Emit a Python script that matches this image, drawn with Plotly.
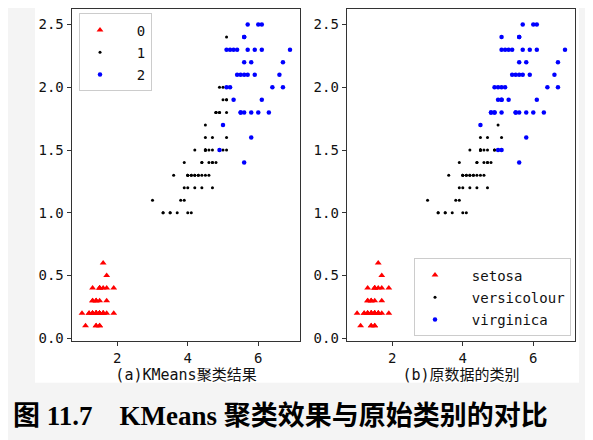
import plotly.graph_objects as go

petal_length = [
    1.4, 1.4, 1.3, 1.5, 1.4, 1.7, 1.4, 1.5, 1.4, 1.5,
    1.5, 1.6, 1.4, 1.1, 1.2, 1.5, 1.3, 1.4, 1.7, 1.5,
    1.7, 1.5, 1.0, 1.7, 1.9, 1.6, 1.6, 1.5, 1.4, 1.6,
    1.6, 1.5, 1.5, 1.4, 1.5, 1.2, 1.3, 1.4, 1.3, 1.5,
    1.3, 1.3, 1.3, 1.6, 1.9, 1.4, 1.6, 1.4, 1.5, 1.4,
    4.7, 4.5, 4.9, 4.0, 4.6, 4.5, 4.7, 3.3, 4.6, 3.9,
    3.5, 4.2, 4.0, 4.7, 3.6, 4.4, 4.5, 4.1, 4.5, 3.9,
    4.8, 4.0, 4.9, 4.7, 4.3, 4.4, 4.8, 5.0, 4.5, 3.5,
    3.8, 3.7, 3.9, 5.1, 4.5, 4.5, 4.7, 4.4, 4.1, 4.0,
    4.4, 4.6, 4.0, 3.3, 4.2, 4.2, 4.2, 4.3, 3.0, 4.1,
    6.0, 5.1, 5.9, 5.6, 5.8, 6.6, 4.5, 6.3, 5.8, 6.1,
    5.1, 5.3, 5.5, 5.0, 5.1, 5.3, 5.5, 6.7, 6.9, 5.0,
    5.7, 4.9, 6.7, 4.9, 5.7, 6.0, 4.8, 4.9, 5.6, 5.8,
    6.1, 6.4, 5.6, 5.1, 5.6, 6.1, 5.6, 5.5, 4.8, 5.4,
    5.6, 5.1, 5.1, 5.9, 5.7, 5.2, 5.0, 5.2, 5.4, 5.1,
]
petal_width = [
    0.2, 0.2, 0.2, 0.2, 0.2, 0.4, 0.3, 0.2, 0.2, 0.1,
    0.2, 0.2, 0.1, 0.1, 0.2, 0.4, 0.4, 0.3, 0.3, 0.3,
    0.2, 0.4, 0.2, 0.5, 0.2, 0.2, 0.4, 0.2, 0.2, 0.2,
    0.2, 0.4, 0.1, 0.2, 0.2, 0.2, 0.2, 0.1, 0.2, 0.2,
    0.3, 0.3, 0.2, 0.6, 0.4, 0.3, 0.2, 0.2, 0.2, 0.2,
    1.4, 1.5, 1.5, 1.3, 1.5, 1.3, 1.6, 1.0, 1.3, 1.4,
    1.0, 1.5, 1.0, 1.4, 1.3, 1.4, 1.5, 1.0, 1.5, 1.1,
    1.8, 1.3, 1.5, 1.2, 1.3, 1.4, 1.4, 1.7, 1.5, 1.0,
    1.1, 1.0, 1.2, 1.6, 1.5, 1.6, 1.5, 1.3, 1.3, 1.3,
    1.2, 1.4, 1.2, 1.0, 1.3, 1.2, 1.3, 1.3, 1.1, 1.3,
    2.5, 1.9, 2.1, 1.8, 2.2, 2.1, 1.7, 1.8, 1.8, 2.5,
    2.0, 1.9, 2.1, 2.0, 2.4, 2.3, 1.8, 2.2, 2.3, 1.5,
    2.3, 2.0, 2.0, 1.8, 2.1, 1.8, 1.8, 1.8, 2.1, 1.6,
    1.9, 2.0, 2.2, 1.5, 1.4, 2.3, 2.4, 1.8, 1.8, 2.1,
    2.4, 2.3, 1.9, 2.3, 2.5, 2.3, 1.9, 2.0, 2.3, 1.8,
]
# original class of each flower (0 setosa, 1 versicolour, 2 virginica)
species = [
    0, 0, 0, 0, 0, 0, 0, 0, 0, 0, 0, 0, 0, 0, 0, 0, 0, 0, 0, 0, 0, 0, 0, 0, 0,
    0, 0, 0, 0, 0, 0, 0, 0, 0, 0, 0, 0, 0, 0, 0, 0, 0, 0, 0, 0, 0, 0, 0, 0, 0,
    1, 1, 1, 1, 1, 1, 1, 1, 1, 1, 1, 1, 1, 1, 1, 1, 1, 1, 1, 1, 1, 1, 1, 1, 1,
    1, 1, 1, 1, 1, 1, 1, 1, 1, 1, 1, 1, 1, 1, 1, 1, 1, 1, 1, 1, 1, 1, 1, 1, 1,
    2, 2, 2, 2, 2, 2, 2, 2, 2, 2, 2, 2, 2, 2, 2, 2, 2, 2, 2, 2, 2, 2, 2, 2, 2,
    2, 2, 2, 2, 2, 2, 2, 2, 2, 2, 2, 2, 2, 2, 2, 2, 2, 2, 2, 2, 2, 2, 2, 2, 2,
]
# cluster assigned by KMeans
kmeans_label = [
    0, 0, 0, 0, 0, 0, 0, 0, 0, 0, 0, 0, 0, 0, 0, 0, 0, 0, 0, 0, 0, 0, 0, 0, 0,
    0, 0, 0, 0, 0, 0, 0, 0, 0, 0, 0, 0, 0, 0, 0, 0, 0, 0, 0, 0, 0, 0, 0, 0, 0,
    1, 1, 2, 1, 1, 1, 1, 1, 1, 1, 1, 1, 1, 1, 1, 1, 1, 1, 1, 1, 1, 1, 1, 1, 1,
    1, 1, 2, 1, 1, 1, 1, 1, 1, 1, 1, 1, 1, 1, 1, 1, 1, 1, 1, 1, 1, 1, 1, 1, 1,
    2, 1, 2, 2, 2, 2, 1, 2, 2, 2, 2, 2, 2, 1, 1, 2, 2, 2, 2, 1, 2, 1, 2, 1, 2,
    2, 1, 1, 2, 2, 2, 2, 2, 1, 2, 2, 2, 2, 1, 2, 2, 2, 1, 2, 2, 2, 1, 2, 2, 1,
]
cluster_names = ["0", "1", "2"]
species_names = ["setosa", "versicolour", "virginica"]
x_ticks = [2, 4, 6]
y_ticks = [0.0, 0.5, 1.0, 1.5, 2.0, 2.5]

# marker style per group: red triangles, black small dots, blue dots
styles = [
    dict(color="#ff0000", symbol="triangle-up", size=6),
    dict(color="#000000", symbol="circle", size=3),
    dict(color="#0000ff", symbol="circle", size=4.5),
]

# the page body has an 8px margin, so the figure is drawn 8px in from the
# top-left corner; positions below are in window pixels
OFF = 8
W, H = 593 - OFF, 440 - OFF


def px(x):
    return (x - OFF) / W


def py(y):
    return 1 - (y - OFF) / H


MONO = "DejaVu Sans Mono"
CJK = "DejaVu Sans Mono, Noto Sans CJK SC"

fig = go.Figure()


def add_groups(labels, names, xaxis, yaxis, legend, pad):
    for k, name in enumerate(names):
        xs = [x for x, g in zip(petal_length, labels) if g == k]
        ys = [y for y, g in zip(petal_width, labels) if g == k]
        fig.add_trace(go.Scatter(
            x=xs, y=ys, mode="markers", name=pad + name,
            marker=dict(line=dict(width=0), **styles[k]),
            xaxis=xaxis, yaxis=yaxis, legend=legend,
            legendgroup=legend + name, hoverinfo="x+y",
        ))


pad = "\u00a0" * 2
add_groups(kmeans_label, cluster_names, "x", "y", "legend", pad)
add_groups(species, species_names, "x2", "y2", "legend2", pad)

y_dom = [py(344.5), py(8.5)]
axis_style = dict(
    showline=True, linecolor="#333333", linewidth=1, mirror=True,
    ticks="outside", ticklen=4, tickcolor="#333333", showgrid=False,
    zeroline=False, tickfont=dict(family=MONO, size=14, color="#111111"),
)
legend_style = dict(
    xanchor="left", yanchor="top", bgcolor="white", bordercolor="#cccccc",
    borderwidth=1, font=dict(family=MONO, size=14, color="#111111"),
    tracegroupgap=1, itemwidth=30,
)
title_font = dict(family=CJK, size=15, color="#111111")

fig.update_layout(
    width=W, height=H,
    margin=dict(l=0, r=0, t=0, b=0),
    paper_bgcolor="#f4f4f4", plot_bgcolor="white",
    showlegend=True,
    xaxis=dict(domain=[px(71.6), px(300.4)], range=[0.705, 7.195],
               tickvals=x_ticks, anchor="y",
               title=dict(text="(a)KMeans聚类结果", standoff=1,
                          font=title_font),
               **axis_style),
    yaxis=dict(domain=y_dom, range=[-0.02, 2.62], tickvals=y_ticks,
               tickformat=".1f", anchor="x", **axis_style),
    xaxis2=dict(domain=[px(346.7), px(575.4)], range=[0.705, 7.195],
                tickvals=x_ticks, anchor="y2",
                title=dict(text="(b)原数据的类别", standoff=1,
                           font=title_font),
                **axis_style),
    yaxis2=dict(domain=y_dom, range=[-0.02, 2.62], tickvals=y_ticks,
                tickformat=".1f", anchor="x2", **axis_style),
    legend=dict(x=px(79), y=py(12.5), **legend_style),
    legend2=dict(x=px(414), y=py(261), **legend_style),
    shapes=[dict(type="rect", xref="paper", yref="paper", layer="below",
                 x0=px(35), x1=px(579), y0=py(387), y1=1.01,
                 fillcolor="white", line=dict(width=0))],
    annotations=[dict(
        text="<b>图 11.7\u00a0\u00a0\u00a0\u00a0KMeans 聚类效果与原始类别的对比</b>",
        xref="paper", yref="paper", x=px(11), y=py(420.5),
        xanchor="left", yanchor="middle", showarrow=False,
        font=dict(family="Liberation Serif, Noto Sans CJK SC", size=27,
                  color="#000000"),
    )],
)

fig.write_html("out.html")
